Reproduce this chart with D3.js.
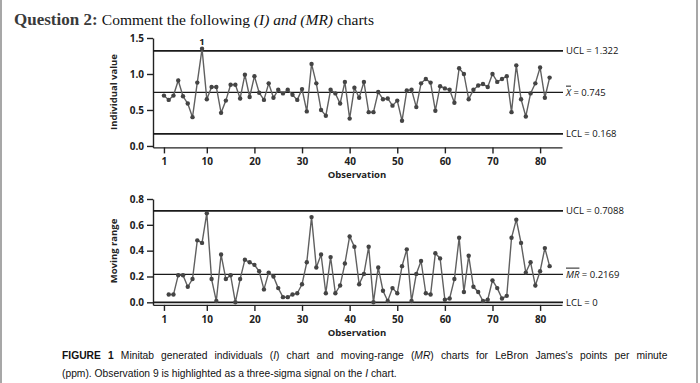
<!DOCTYPE html>
<html>
<head>
<meta charset="utf-8">
<script src="https://cdn.jsdelivr.net/npm/d3@7"></script>
<style>
  html, body { margin: 0; padding: 0; background: #fff; }
  svg { display: block; }
  .tick text { font-family: "Open Sans", sans-serif; font-weight: 700; font-size: 10px; fill: #222; }
  .tick line, .domain { stroke: #222; stroke-width: 1.4; }
</style>
</head>
<body>
<svg id="chart" width="700" height="383"></svg>
<script>
// observation numbers (x) and values
const observations = d3.range(1, 83);
const individualValues = [
  0.70, 0.64, 0.70, 0.91, 0.69, 0.59, 0.40, 0.88, 1.35, 0.65,
  0.82, 0.82, 0.46, 0.63, 0.85, 0.85, 0.66, 0.99, 0.68, 0.97,
  0.74, 0.64, 0.87, 0.67, 0.78, 0.73, 0.78, 0.71, 0.64, 0.79,
  0.48, 1.14, 0.87, 0.50, 0.42, 0.78, 0.73, 0.59, 0.89, 0.38,
  0.81, 0.67, 0.89, 0.47, 0.47, 0.75, 0.65, 0.66, 0.56, 0.63,
  0.35, 0.77, 0.78, 0.54, 0.87, 0.93, 0.88, 0.49, 0.83, 0.80,
  0.78, 0.60, 1.08, 1.00, 0.65, 0.78, 0.84, 0.86, 0.82, 1.00,
  0.89, 0.93, 0.97, 0.47, 1.12, 0.65, 0.41, 0.73, 0.87, 1.09,
  0.67, 0.95
];
// moving range starts at observation 2
const movingRange = [
  0.06, 0.06, 0.21, 0.21, 0.12, 0.18, 0.48, 0.46, 0.69, 0.18,
  0.01, 0.37, 0.18, 0.21, 0.00, 0.18, 0.33, 0.31, 0.29, 0.24,
  0.10, 0.23, 0.20, 0.11, 0.04, 0.04, 0.06, 0.07, 0.14, 0.31,
  0.66, 0.27, 0.37, 0.07, 0.35, 0.07, 0.13, 0.30, 0.51, 0.43,
  0.14, 0.22, 0.43, 0.00, 0.27, 0.09, 0.01, 0.11, 0.07, 0.28,
  0.41, 0.01, 0.22, 0.32, 0.07, 0.06, 0.38, 0.34, 0.02, 0.03,
  0.18, 0.50, 0.08, 0.36, 0.12, 0.08, 0.01, 0.02, 0.17, 0.11,
  0.03, 0.05, 0.50, 0.64, 0.46, 0.23, 0.31, 0.13, 0.24, 0.42,
  0.28
];
const xTickValues = [1, 10, 20, 30, 40, 50, 60, 70, 80];
const iTicks = [0, 0.5, 1.0, 1.5];
const mrTicks = [0, 0.2, 0.4, 0.6, 0.8];
const iLimits = [
  { value: 1.322, name: "UCL", text: "UCL = 1.322" },
  { value: 0.745, name: "CL", bar: "X", text: " = 0.745" },
  { value: 0.168, name: "LCL", text: "LCL = 0.168" }
];
const mrLimits = [
  { value: 0.7088, name: "UCL", text: "UCL = 0.7088" },
  { value: 0.2169, name: "CL", bar: "MR", text: " = 0.2169" },
  { value: 0, name: "LCL", text: "LCL = 0" }
];
const signals = [9]; // observation flagged with test 1

const svg = d3.select("#chart");
svg.append("rect").attr("width", 700).attr("height", 383).attr("fill", "#fff");

// page border
svg.append("line").attr("x1", 1).attr("x2", 1).attr("y1", 0).attr("y2", 383)
  .attr("stroke", "#8a8a8a").attr("stroke-width", 1.5);
svg.append("line").attr("x1", 697).attr("x2", 697).attr("y1", 0).attr("y2", 383)
  .attr("stroke", "#8a8a8a").attr("stroke-width", 1.5);

// title
const title = svg.append("text").attr("x", 14).attr("y", 25)
  .attr("font-family", "Liberation Serif, serif").attr("font-size", 15.5).attr("fill", "#111");
title.append("tspan").attr("font-weight", 700).attr("font-size", 17).attr("fill", "#3a3a3a").text("Question 2: ");
title.append("tspan").text("Comment the following ");
title.append("tspan").attr("font-style", "italic").text("(I) and (MR)");
title.append("tspan").text(" charts");

const x = d3.scaleLinear().domain([-1.3, 84.6]).range([153, 562]);

/**
 * Draws one panel (I chart or MR chart)
 */
function drawPanel(cfg) {
  const y = d3.scaleLinear().domain(cfg.yDomain).range(cfg.yRange);
  const g = svg.append("g");

  g.append("g")
    .attr("transform", `translate(0,${cfg.yRange[0]})`)
    .call(d3.axisBottom(x).tickValues(xTickValues).tickSize(6).tickSizeOuter(0).tickFormat(d3.format("d")))
    .call((a) => a.selectAll(".tick text").attr("dy", "0.9em"));

  g.append("g")
    .attr("transform", `translate(${x.range()[0]},0)`)
    .call(d3.axisLeft(y).tickValues(cfg.yTicks).tickSize(6).tickSizeOuter(0).tickFormat(d3.format(".1f")))
    .call((a) => a.selectAll(".tick text").attr("x", -9));

  // control limit lines
  cfg.limits.forEach((l) => {
    g.append("line")
      .attr("x1", x.range()[0]).attr("x2", 563)
      .attr("y1", y(l.value)).attr("y2", y(l.value))
      .attr("stroke", "#1a1a1a")
      .attr("stroke-width", l.name === "CL" ? 1.2 : 1.7);
    const t = g.append("text")
      .attr("x", 566).attr("y", y(l.value)).attr("dy", "0.35em")
      .attr("font-family", "Open Sans, sans-serif").attr("font-size", 9.5).attr("fill", "#111");
    if (l.bar) {
      t.append("tspan").attr("font-style", "italic").style("text-decoration", "overline").text(l.bar);
    }
    t.append("tspan").text(l.text);
  });

  // data
  const pts = cfg.values.map((v, i) => ({ obs: cfg.obs[i], v }));
  g.append("path")
    .datum(pts)
    .attr("fill", "none")
    .attr("stroke", "#606060")
    .attr("stroke-width", 1.4)
    .attr("d", d3.line().x((d) => x(d.obs)).y((d) => y(d.v)));
  g.selectAll("circle.pt")
    .data(pts)
    .join("circle")
    .attr("class", "pt")
    .attr("cx", (d) => x(d.obs)).attr("cy", (d) => y(d.v))
    .attr("r", 2.2)
    .attr("fill", "#444");

  if (cfg.signals) {
    g.selectAll("text.sig")
      .data(pts.filter((d) => cfg.signals.includes(d.obs)))
      .join("text")
      .attr("class", "sig")
      .attr("x", (d) => x(d.obs)).attr("y", (d) => y(d.v) - 4)
      .attr("text-anchor", "middle")
      .attr("font-family", "Open Sans, sans-serif").attr("font-weight", 700).attr("font-size", 9.5)
      .attr("fill", "#222")
      .text("1");
  }

  // axis titles
  g.append("text")
    .attr("transform", `translate(117,${cfg.titleY}) rotate(-90)`)
    .attr("text-anchor", "middle")
    .attr("font-family", "Open Sans, sans-serif").attr("font-weight", 700).attr("font-size", 9.5)
    .attr("fill", "#222")
    .text(cfg.yTitle);
  g.append("text")
    .attr("x", 357).attr("y", cfg.yRange[0] + 31)
    .attr("text-anchor", "middle")
    .attr("font-family", "Open Sans, sans-serif").attr("font-weight", 700).attr("font-size", 9.5)
    .attr("fill", "#222")
    .text("Observation");
}

drawPanel({
  yDomain: [-0.02, 1.5], yRange: [147.4, 38], yTicks: iTicks,
  limits: iLimits, obs: observations, values: individualValues,
  signals: signals, yTitle: "Individual value", titleY: 92
});
drawPanel({
  yDomain: [-0.02, 0.8], yRange: [304.9, 199], yTicks: mrTicks,
  limits: mrLimits, obs: observations.slice(1), values: movingRange,
  yTitle: "Moving range", titleY: 251
});

// caption: condensed face, first line justified to the column width
const capLeft = 62, capWidth1 = 606, capWidth2 = 335;
function captionLine(y, parts) {
  const g = svg.append("g").attr("transform", `translate(${capLeft},${y})`);
  const t = g.append("text")
    .attr("font-family", "Liberation Sans, Arial, sans-serif").attr("font-size", 11.5).attr("fill", "#111");
  parts.forEach((p) => {
    const s = t.append("tspan").text(p.t);
    if (p.b) s.attr("font-weight", 700);
    if (p.i) s.attr("font-style", "italic");
  });
  return { g, t };
}
const line1 = captionLine(359, [
  { t: "FIGURE 1", b: true }, { t: " Minitab generated individuals (" }, { t: "I", i: true },
  { t: ") chart and moving-range (" }, { t: "MR", i: true },
  { t: ") charts for LeBron James's points per minute" }
]);
const line2 = captionLine(377, [
  { t: "(ppm). Observation 9 is highlighted as a three-sigma signal on the " }, { t: "I", i: true }, { t: " chart." }
]);
const squeeze = capWidth2 / line2.t.node().getComputedTextLength();
line2.g.attr("transform", `translate(${capLeft},377) scale(${squeeze},1)`);
const w1 = line1.t.node().getComputedTextLength();
const spaces = line1.t.text().split(" ").length - 1;
line1.t.attr("word-spacing", Math.max(0, (capWidth1 / squeeze - w1) / spaces));
line1.g.attr("transform", `translate(${capLeft},359) scale(${squeeze},1)`);
</script>
</body>
</html>
